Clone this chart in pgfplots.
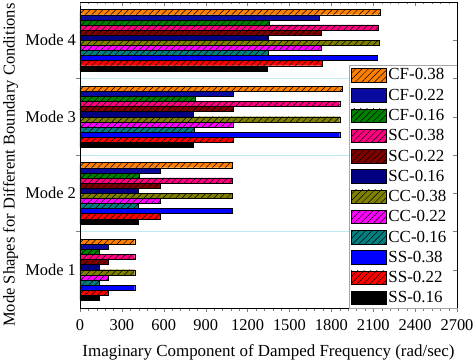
\documentclass[border=0pt]{standalone}
\usepackage{fontspec}
\setmainfont{Liberation Serif}
\usepackage{pgfplots}
\usepackage{pgfplotstable}
\pgfplotsset{compat=1.18}
\usetikzlibrary{patterns.meta}

\definecolor{cOrange}{RGB}{255,128,0}
\definecolor{cNavyA}{RGB}{10,10,160}
\definecolor{cGreen}{RGB}{0,128,0}
\definecolor{cPink}{RGB}{255,0,128}
\definecolor{cDRed}{RGB}{128,0,0}
\definecolor{cNavy}{RGB}{0,0,128}
\definecolor{cOlive}{RGB}{128,128,0}
\definecolor{cMag}{RGB}{255,0,255}
\definecolor{cTeal}{RGB}{0,128,128}
\definecolor{cBlue}{RGB}{0,0,255}
\definecolor{cRed}{RGB}{255,0,0}
\definecolor{cGrid}{RGB}{190,235,245}

\pgfplotstableread{
mode CF38 CF22 CF16 SC38 SC22 SC16 CC38 CC22 CC16 SS38 SS22 SS16
1    392  203  141  392  200  139  392  200  139  392  200  136
2    1087 574  424  1087 574  416  1087 574  416  1087 574  416
3    1875 1094 826  1860 1094 814  1860 1094 815  1860 1094 811
4    2150 1716 1357 2135 1728 1350 2140 1728 1350 2130 1733 1343
}\datatable

\pgfplotsset{
  mybar/.style={xbar, bar width=0.0667, draw=black, line width=0.4bp,
    legend image code/.code={\draw[##1] (0bp,-6.75bp) rectangle (35bp,6.75bp);}},
  hatch/.style={postaction={pattern={Lines[angle=45,distance=4.5bp,line width=0.5bp]}, pattern color=black}}
}
\newcommand{\legtxt}[1]{#1\kern7bp}

\begin{document}
\begin{tikzpicture}
\useasboundingbox (-80bp,-53bp) rectangle (394bp,308bp);
\begin{axis}[
  name=main, at={(0,0)}, anchor=south west,
  scale only axis, width=377bp, height=306bp,
  xmin=0, xmax=2700, ymin=0.5, ymax=4.5,
  xtick={0,300,...,2700}, minor x tick num=4,
  ytick={1.5,2.5,3.5}, yticklabels={},
  ymajorgrids, major grid style={color=cGrid, line width=0.6bp},
  extra y ticks={1,2,3,4},
  extra y tick labels={Mode 1,Mode 2,Mode 3,Mode 4},
  extra y tick style={grid=none, tick style={draw=none}},
  xtick pos=bottom, ytick pos=left, tick align=outside,
  major tick length=4bp, minor tick length=2.5bp,
  /pgf/number format/assume math mode=true,
  /pgf/number format/set thousands separator={},
  tick label style={font=\fontsize{16.5}{19}\selectfont},
  xticklabel style={yshift=-4.5bp},
  yticklabel style={xshift=3.5bp},
  xlabel style={font=\fontsize{17}{19}\selectfont, yshift=-7bp},
  ylabel style={font=\fontsize{16.6}{19}\selectfont, at={(axis description cs:-0.184,0.467)}, anchor=center},
  xlabel={Imaginary Component of Damped Frequency (rad/sec)},
  ylabel={Mode Shapes for Different Boundary Conditions},
  reverse legend, legend cell align=left,
  legend style={at={(1,0)}, anchor=south east, draw=gray!70, fill=white,
    font=\fontsize{17}{19}\selectfont, row sep=5.5bp,
    inner xsep=1.5bp, inner ysep=2.5bp, nodes={inner xsep=2bp, inner ysep=1bp}},
]
\addplot[mybar, bar shift=-0.3667, fill=black] table[x=SS16, y=mode] {\datatable};
\addlegendentry{\legtxt{SS-0.16}}
\addplot[mybar, bar shift=-0.3000, fill=cRed, hatch] table[x=SS22, y=mode] {\datatable};
\addlegendentry{\legtxt{SS-0.22}}
\addplot[mybar, bar shift=-0.2333, fill=cBlue] table[x=SS38, y=mode] {\datatable};
\addlegendentry{\legtxt{SS-0.38}}
\addplot[mybar, bar shift=-0.1667, fill=cTeal, hatch] table[x=CC16, y=mode] {\datatable};
\addlegendentry{\legtxt{CC-0.16}}
\addplot[mybar, bar shift=-0.1000, fill=cMag, hatch] table[x=CC22, y=mode] {\datatable};
\addlegendentry{\legtxt{CC-0.22}}
\addplot[mybar, bar shift=-0.0333, fill=cOlive, hatch] table[x=CC38, y=mode] {\datatable};
\addlegendentry{\legtxt{CC-0.38}}
\addplot[mybar, bar shift=0.0333, fill=cNavy] table[x=SC16, y=mode] {\datatable};
\addlegendentry{\legtxt{SC-0.16}}
\addplot[mybar, bar shift=0.1000, fill=cDRed, hatch] table[x=SC22, y=mode] {\datatable};
\addlegendentry{\legtxt{SC-0.22}}
\addplot[mybar, bar shift=0.1667, fill=cPink, hatch] table[x=SC38, y=mode] {\datatable};
\addlegendentry{\legtxt{SC-0.38}}
\addplot[mybar, bar shift=0.2333, fill=cGreen, hatch] table[x=CF16, y=mode] {\datatable};
\addlegendentry{\legtxt{CF-0.16}}
\addplot[mybar, bar shift=0.3000, fill=cNavyA] table[x=CF22, y=mode] {\datatable};
\addlegendentry{\legtxt{CF-0.22}}
\addplot[mybar, bar shift=0.3667, fill=cOrange, hatch] table[x=CF38, y=mode] {\datatable};
\addlegendentry{\legtxt{CF-0.38}}
\end{axis}
\begin{axis}[
  at={(0,0)}, anchor=south west,
  scale only axis, width=377bp, height=306bp,
  xmin=0, xmax=2700, ymin=0.5, ymax=4.5,
  axis x line*=top, axis y line*=right,
  xtick={0,300,...,2700}, minor x tick num=4,
  ytick={1,1.5,...,4},
  xticklabels={}, yticklabels={},
  tick align=inside, major tick length=4bp, minor tick length=2.5bp,
]
\end{axis}
\end{tikzpicture}
\end{document}
